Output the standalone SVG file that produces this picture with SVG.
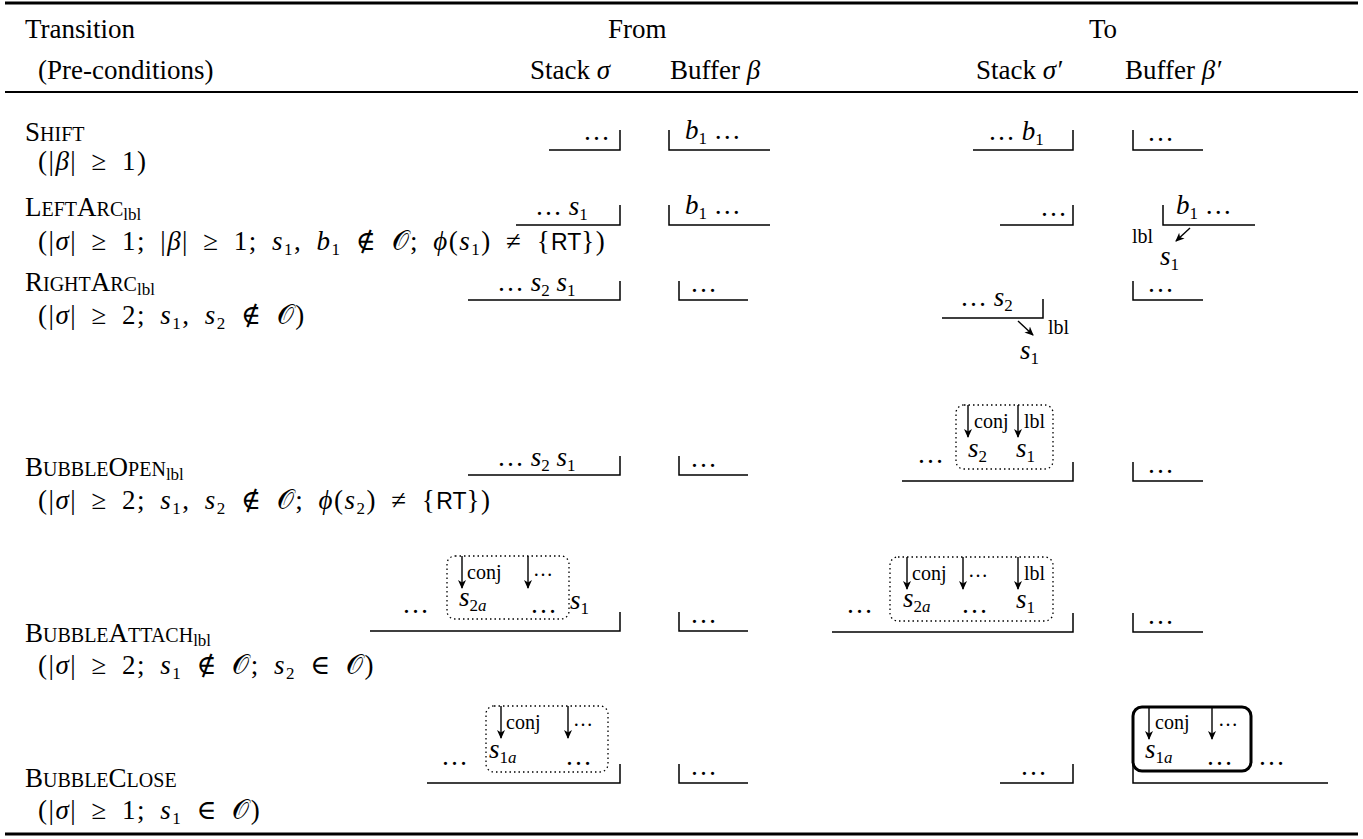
<svg xmlns="http://www.w3.org/2000/svg" width="1363" height="839" viewBox="0 0 1363 839">
<style>
text{font-family:"Liberation Serif","DejaVu Serif",serif;font-size:27px;fill:#000}
.i{font-style:italic}
.sc{font-size:20px}
.sub{font-size:17px}
.sm{font-size:20px}
.m{letter-spacing:1.5px;word-spacing:6px}
.sans{font-family:"Liberation Sans",sans-serif;font-size:23px;letter-spacing:0}
.l{stroke:#000;stroke-width:1.5;fill:none}
.dot{stroke:#000;stroke-width:1.3;fill:none;stroke-dasharray:1.5 3}
.bold{stroke:#000;stroke-width:3;fill:none}
.a{stroke:#000;stroke-width:1.4;marker-end:url(#ah)}
</style>
<defs><marker id="ah" markerWidth="10" markerHeight="10" refX="8" refY="5" orient="auto" markerUnits="userSpaceOnUse"><path d="M0,1 L9,5 L0,9 L2.5,5 Z" fill="#000"/></marker></defs>
<rect width="1363" height="839" fill="#fff"/>
<line x1="5" y1="3" x2="1358" y2="3" stroke="#000" stroke-width="3"/>
<line x1="5" y1="92" x2="1358" y2="92" stroke="#000" stroke-width="1.8"/>
<line x1="5" y1="834" x2="1358" y2="834" stroke="#000" stroke-width="3"/>
<g id="header">
<text x="25" y="38">Transition</text>
<text x="38" y="79">(Pre-conditions)</text>
<text x="608" y="38">From</text>
<text x="1089" y="38">To</text>
<text x="530" y="79">Stack <tspan class="i">σ</tspan></text>
<text x="670" y="79">Buffer <tspan class="i">β</tspan></text>
<text x="976" y="79">Stack <tspan class="i">σ′</tspan></text>
<text x="1125" y="79">Buffer <tspan class="i">β′</tspan></text>
</g>
<g id="labels">
<text x="25" y="141">S<tspan class="sc">HIFT</tspan></text>
<text class="m" x="38" y="170">(|<tspan class="i">β</tspan>| ≥ 1)</text>
<text x="25" y="216">L<tspan class="sc">EFT</tspan>A<tspan class="sc">RC</tspan><tspan class="sub" dy="4">lbl</tspan></text>
<text class="m" x="38" y="250">(|<tspan class="i">σ</tspan>| ≥ 1; |<tspan class="i">β</tspan>| ≥ 1; <tspan class="i">s</tspan><tspan class="sub" dy="5">1</tspan><tspan dy="-5">, </tspan><tspan class="i">b</tspan><tspan class="sub" dy="5">1</tspan><tspan dy="-5"> ∉ 𝒪; </tspan><tspan class="i">ϕ</tspan>(<tspan class="i">s</tspan><tspan class="sub" dy="5">1</tspan><tspan dy="-5">) ≠ {</tspan><tspan class="sans">RT</tspan>})</text>
<text x="25" y="291">R<tspan class="sc">IGHT</tspan>A<tspan class="sc">RC</tspan><tspan class="sub" dy="4">lbl</tspan></text>
<text class="m" x="38" y="324">(|<tspan class="i">σ</tspan>| ≥ 2; <tspan class="i">s</tspan><tspan class="sub" dy="5">1</tspan><tspan dy="-5">, </tspan><tspan class="i">s</tspan><tspan class="sub" dy="5">2</tspan><tspan dy="-5"> ∉ 𝒪)</tspan></text>
<text x="25" y="476">B<tspan class="sc">UBBLE</tspan>O<tspan class="sc">PEN</tspan><tspan class="sub" dy="4">lbl</tspan></text>
<text class="m" x="38" y="509">(|<tspan class="i">σ</tspan>| ≥ 2; <tspan class="i">s</tspan><tspan class="sub" dy="5">1</tspan><tspan dy="-5">, </tspan><tspan class="i">s</tspan><tspan class="sub" dy="5">2</tspan><tspan dy="-5"> ∉ 𝒪; </tspan><tspan class="i">ϕ</tspan>(<tspan class="i">s</tspan><tspan class="sub" dy="5">2</tspan><tspan dy="-5">) ≠ {</tspan><tspan class="sans">RT</tspan>})</text>
<text x="25" y="642">B<tspan class="sc">UBBLE</tspan>A<tspan class="sc">TTACH</tspan><tspan class="sub" dy="4">lbl</tspan></text>
<text class="m" x="38" y="674">(|<tspan class="i">σ</tspan>| ≥ 2; <tspan class="i">s</tspan><tspan class="sub" dy="5">1</tspan><tspan dy="-5"> ∉ 𝒪; </tspan><tspan class="i">s</tspan><tspan class="sub" dy="5">2</tspan><tspan dy="-5"> ∈ 𝒪)</tspan></text>
<text x="25" y="787">B<tspan class="sc">UBBLE</tspan>C<tspan class="sc">LOSE</tspan></text>
<text class="m" x="38" y="819">(|<tspan class="i">σ</tspan>| ≥ 1; <tspan class="i">s</tspan><tspan class="sub" dy="5">1</tspan><tspan dy="-5"> ∈ 𝒪)</tspan></text>
</g>
<g id="connectors">
<path class="l" d="M549,150 H620 V130"/><path class="l" d="M669,130 V150 H770"/>
<path class="l" d="M973,150 H1073 V130"/><path class="l" d="M1133,130 V150 H1203"/>
<path class="l" d="M516,225 H620 V205"/><path class="l" d="M669,205 V225 H770"/>
<path class="l" d="M1000,225 H1073 V205"/><path class="l" d="M1163,205 V225 H1255"/>
<line class="a" x1="1190" y1="228" x2="1176" y2="241"/>
<path class="l" d="M468,300 H620 V281"/><path class="l" d="M679,281 V300 H748"/>
<path class="l" d="M942,318 H1043 V299"/><path class="l" d="M1133,281 V300 H1203"/>
<line class="a" x1="1018" y1="321" x2="1033" y2="335"/>
<path class="l" d="M468,475 H620 V456"/><path class="l" d="M679,456 V475 H748"/>
<path class="l" d="M902,481 H1073 V462"/><path class="l" d="M1133,462 V481 H1203"/>
<rect class="dot" x="956" y="405" width="97" height="64" rx="8"/>
<line class="a" x1="968" y1="405" x2="968" y2="437"/><line class="a" x1="1018" y1="405" x2="1018" y2="437"/>
<path class="l" d="M370,631 H620 V612"/><path class="l" d="M679,612 V631 H748"/>
<rect class="dot" x="447" y="556" width="122" height="63" rx="8"/>
<line class="a" x1="462" y1="556" x2="462" y2="588"/><line class="a" x1="528" y1="556" x2="528" y2="588"/>
<path class="l" d="M832,632 H1073 V613"/><path class="l" d="M1133,613 V632 H1203"/>
<rect class="dot" x="890" y="557" width="163" height="64" rx="8"/>
<line class="a" x1="907" y1="557" x2="907" y2="589"/><line class="a" x1="963" y1="557" x2="963" y2="589"/><line class="a" x1="1018" y1="557" x2="1018" y2="589"/>
<path class="l" d="M427,783 H620 V764"/><path class="l" d="M679,764 V783 H748"/>
<rect class="dot" x="486" y="706" width="122" height="66" rx="8"/>
<line class="a" x1="501" y1="706" x2="501" y2="738"/><line class="a" x1="568" y1="706" x2="568" y2="738"/>
<path class="l" d="M1000,783 H1073 V764"/><path class="l" d="M1133,764 V783 H1328"/>
<rect class="bold" x="1133" y="707" width="118" height="64" rx="9"/>
<line class="a" x1="1149" y1="707" x2="1149" y2="739"/><line class="a" x1="1212" y1="707" x2="1212" y2="739"/>
</g>
<g id="contents">
<text x="583" y="140">…</text><text x="685" y="139"><tspan class="i">b</tspan><tspan class="sub" dy="5">1</tspan><tspan dy="-5"> …</tspan></text>
<text x="988" y="140">… <tspan class="i">b</tspan><tspan class="sub" dy="5">1</tspan></text><text x="1147" y="141">…</text>
<text x="535" y="215">… <tspan class="i">s</tspan><tspan class="sub" dy="5">1</tspan></text><text x="685" y="214"><tspan class="i">b</tspan><tspan class="sub" dy="5">1</tspan><tspan dy="-5"> …</tspan></text>
<text x="1040" y="216">…</text><text x="1176" y="214"><tspan class="i">b</tspan><tspan class="sub" dy="5">1</tspan><tspan dy="-5"> …</tspan></text>
<text class="sm" x="1132" y="243">lbl</text><text x="1160" y="265"><tspan class="i">s</tspan><tspan class="sub" dy="5">1</tspan></text>
<text x="497" y="291">… <tspan class="i">s</tspan><tspan class="sub" dy="5">2</tspan><tspan dy="-5"> </tspan><tspan class="i">s</tspan><tspan class="sub" dy="5">1</tspan></text>
<text x="690" y="292">…</text>
<text x="960" y="306">… <tspan class="i">s</tspan><tspan class="sub" dy="5">2</tspan></text>
<text class="sm" x="1048" y="334">lbl</text><text x="1020" y="359"><tspan class="i">s</tspan><tspan class="sub" dy="5">1</tspan></text>
<text x="1147" y="292">…</text>
<text x="497" y="466">… <tspan class="i">s</tspan><tspan class="sub" dy="5">2</tspan><tspan dy="-5"> </tspan><tspan class="i">s</tspan><tspan class="sub" dy="5">1</tspan></text>
<text x="690" y="467">…</text>
<text class="sm" x="974" y="428">conj</text><text class="sm" x="1024" y="428">lbl</text>
<text x="917" y="463">…</text>
<text x="968" y="457"><tspan class="i">s</tspan><tspan class="sub" dy="5">2</tspan></text><text x="1016" y="457"><tspan class="i">s</tspan><tspan class="sub" dy="5">1</tspan></text>
<text x="1147" y="473">…</text>
<text class="sm" x="467" y="579">conj</text><text class="sm" x="533" y="576">…</text>
<text x="402" y="613">…</text>
<text x="459" y="606"><tspan class="i">s</tspan><tspan class="sub" dy="5">2<tspan class="i">a</tspan></tspan></text>
<text x="530" y="613">…</text>
<text x="570" y="609"><tspan class="i">s</tspan><tspan class="sub" dy="5">1</tspan></text>
<text x="690" y="623">…</text>
<text class="sm" x="912" y="580">conj</text><text class="sm" x="968" y="577">…</text><text class="sm" x="1024" y="580">lbl</text>
<text x="846" y="613">…</text>
<text x="903" y="607"><tspan class="i">s</tspan><tspan class="sub" dy="5">2<tspan class="i">a</tspan></tspan></text>
<text x="961" y="613">…</text>
<text x="1016" y="608"><tspan class="i">s</tspan><tspan class="sub" dy="5">1</tspan></text>
<text x="1147" y="624">…</text>
<text class="sm" x="506" y="729">conj</text><text class="sm" x="573" y="726">…</text>
<text x="441" y="765">…</text>
<text x="489" y="758"><tspan class="i">s</tspan><tspan class="sub" dy="5">1<tspan class="i">a</tspan></tspan></text>
<text x="565" y="765">…</text>
<text x="690" y="775">…</text>
<text x="1020" y="775">…</text>
<text class="sm" x="1155" y="729">conj</text><text class="sm" x="1218" y="726">…</text>
<text x="1145" y="758"><tspan class="i">s</tspan><tspan class="sub" dy="5">1<tspan class="i">a</tspan></tspan></text>
<text x="1206" y="765">…</text>
<text x="1258" y="765">…</text>
</g>
</svg>
